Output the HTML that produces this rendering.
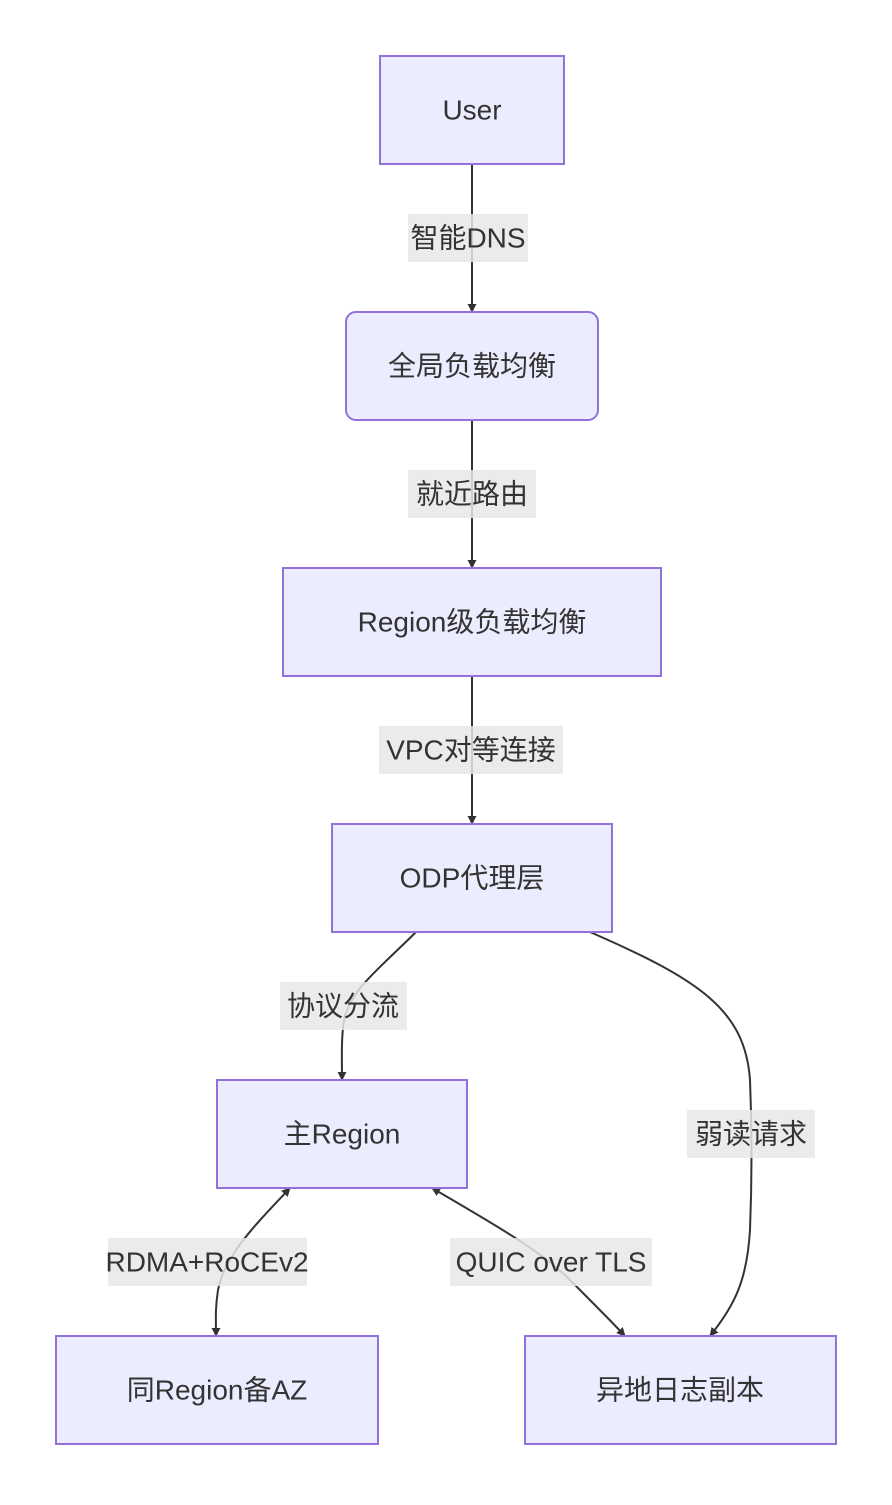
<!DOCTYPE html>
<html><head><meta charset="utf-8"><style>
html,body{margin:0;padding:0;background:#fff;}
svg text{font-family:"Liberation Sans","Noto Sans CJK SC",sans-serif;font-size:28px;fill:#333;}
</style></head><body>
<svg width="892" height="1500" viewBox="0 0 892 1500" xmlns="http://www.w3.org/2000/svg">
<defs>
<marker id="a" viewBox="0 0 10 10" refX="9" refY="5" markerWidth="9" markerHeight="9" markerUnits="userSpaceOnUse" orient="auto-start-reverse"><path d="M0,0L10,5L0,10z" fill="#333"/></marker>
</defs>
<g fill="none" stroke="#333" stroke-width="2">
<path d="M472,164V312" marker-end="url(#a)" style="marker-end:url(#a)"/>
<path d="M472,420V568" marker-end="url(#a)"/>
<path d="M472,676V824" marker-end="url(#a)"/>
<path d="M416,932C380,968 350,990 344,1020C341,1040 342,1060 342,1080" marker-end="url(#a)"/>
<path d="M590,932C700,980 745,1010 750,1080C752,1130 752,1180 750,1230C747,1280 735,1305 710,1336" marker-end="url(#a)"/>
<path d="M290,1188C255,1225 225,1255 218,1290C215,1310 216,1320 216,1336" marker-start="url(#a)" marker-end="url(#a)"/>
<path d="M432,1188C490,1222 540,1250 570,1280C590,1300 610,1320 625,1336" marker-start="url(#a)" marker-end="url(#a)"/>
</g>
<g fill="#ECECFF" stroke="#9370DB" stroke-width="2">
<rect x="380" y="56" width="184" height="108"/>
<rect x="346" y="312" width="252" height="108" rx="10"/>
<rect x="283" y="568" width="378" height="108"/>
<rect x="332" y="824" width="280" height="108"/>
<rect x="217" y="1080" width="250" height="108"/>
<rect x="56" y="1336" width="322" height="108"/>
<rect x="525" y="1336" width="311" height="108"/>
</g>
<g fill="rgba(232,232,232,0.85)">
<rect x="408" y="214" width="120" height="48"/>
<rect x="408" y="470" width="128" height="48"/>
<rect x="379" y="726" width="184" height="48"/>
<rect x="280" y="982" width="127" height="48"/>
<rect x="687" y="1110" width="128" height="48"/>
<rect x="108" y="1238" width="199" height="48"/>
<rect x="450" y="1238" width="202" height="48"/>
</g>
<g text-anchor="middle" dominant-baseline="central">
<text x="472" y="110">User</text>
<text x="472" y="366">全局负载均衡</text>
<text x="472" y="622">Region级负载均衡</text>
<text x="472" y="878">ODP代理层</text>
<text x="342" y="1134">主Region</text>
<text x="217" y="1390">同Region备AZ</text>
<text x="680" y="1390">异地日志副本</text>
<text x="468" y="238">智能DNS</text>
<text x="472" y="494">就近路由</text>
<text x="471" y="750">VPC对等连接</text>
<text x="343" y="1006">协议分流</text>
<text x="751" y="1134">弱读请求</text>
<text x="207" y="1262">RDMA+RoCEv2</text>
<text x="551" y="1262">QUIC over TLS</text>
</g>
</svg>
</body></html>
